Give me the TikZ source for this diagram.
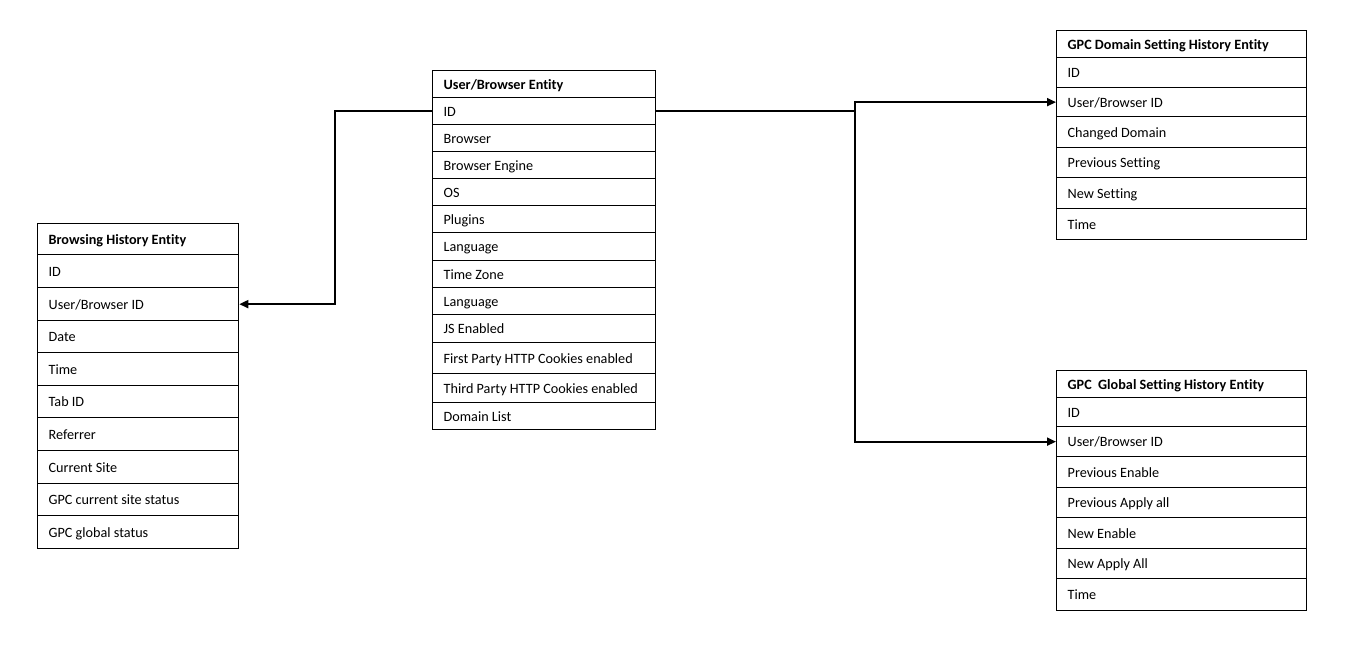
\documentclass[tikz,border=0pt]{standalone}
\usepackage{fontspec}
\setmainfont{Carlito}[Ligatures=NoCommon]
\usetikzlibrary{arrows.meta}
\tikzset{
  row/.style={draw, line width=1.3pt, rectangle, anchor=north west, inner xsep=11pt, inner ysep=0pt, align=flush left, text height=12pt, text depth=2pt, font=\fontsize{14.2}{16}\selectfont},
  conn/.style={line width=1.8pt},
  tip/.style={-{Triangle[length=9pt,width=8pt]}}
}
\newcommand{\erow}[6]{\node[row, text width=#5, minimum height=#4] (#1) at (#2,#3) {#6};}
\begin{document}
\begin{tikzpicture}[x=1pt,y=-1pt]
\useasboundingbox[fill=white] (0,0) rectangle (1371,661);
% User/Browser Entity  x=432, width 223 -> text width 201
\erow{ub0}{432}{70}{27pt}{201pt}{\bfseries User/Browser Entity}
\erow{ub1}{432}{97}{27pt}{201pt}{ID}
\erow{ub2}{432}{124}{27pt}{201pt}{Browser}
\erow{ub3}{432}{151}{27pt}{201pt}{Browser Engine}
\erow{ub4}{432}{178}{27pt}{201pt}{OS}
\erow{ub5}{432}{205}{27pt}{201pt}{Plugins}
\erow{ub6}{432}{232}{28pt}{201pt}{Language}
\erow{ub7}{432}{260}{27pt}{201pt}{Time Zone}
\erow{ub8}{432}{287}{27pt}{201pt}{Language}
\erow{ub9}{432}{314}{28pt}{201pt}{JS Enabled}
\erow{ub10}{432}{342}{31pt}{201pt}{First Party HTTP Cookies enabled}
\erow{ub11}{432}{373}{29pt}{201pt}{Third Party HTTP Cookies enabled}
\erow{ub12}{432}{402}{27pt}{201pt}{Domain List}
% Browsing History Entity x=37 width 201 -> 179
\erow{bh0}{37}{223}{31pt}{179pt}{\bfseries Browsing History Entity}
\erow{bh1}{37}{254}{33pt}{179pt}{ID}
\erow{bh2}{37}{287}{33pt}{179pt}{User/Browser ID}
\erow{bh3}{37}{320}{32pt}{179pt}{Date}
\erow{bh4}{37}{352}{33pt}{179pt}{Time}
\erow{bh5}{37}{385}{32pt}{179pt}{Tab ID}
\erow{bh6}{37}{417}{33pt}{179pt}{Referrer}
\erow{bh7}{37}{450}{33pt}{179pt}{Current Site}
\erow{bh8}{37}{483}{32pt}{179pt}{GPC current site status}
\erow{bh9}{37}{515}{33pt}{179pt}{GPC global status}
% GPC Domain Setting History Entity x=1056 width 250 -> 228
\erow{gd0}{1056}{30}{27pt}{228pt}{\bfseries GPC Domain Setting History Entity}
\erow{gd1}{1056}{57}{30pt}{228pt}{ID}
\erow{gd2}{1056}{87}{29pt}{228pt}{User/Browser ID}
\erow{gd3}{1056}{116}{31pt}{228pt}{Changed Domain}
\erow{gd4}{1056}{147}{30pt}{228pt}{Previous Setting}
\erow{gd5}{1056}{177}{31pt}{228pt}{New Setting}
\erow{gd6}{1056}{208}{31pt}{228pt}{Time}
% GPC Global Setting History Entity
\erow{gg0}{1056}{370}{27pt}{228pt}{\bfseries GPC~ Global Setting History Entity}
\erow{gg1}{1056}{397}{29pt}{228pt}{ID}
\erow{gg2}{1056}{426}{30pt}{228pt}{User/Browser ID}
\erow{gg3}{1056}{456}{31pt}{228pt}{Previous Enable}
\erow{gg4}{1056}{487}{30pt}{228pt}{Previous Apply all}
\erow{gg5}{1056}{517}{31pt}{228pt}{New Enable}
\erow{gg6}{1056}{548}{30pt}{228pt}{New Apply All}
\erow{gg7}{1056}{578}{32pt}{228pt}{Time}
% connectors
\coordinate (jl) at (335,0);
\coordinate (jr) at (855,0);
\draw[conn,tip] (ub1.west) -| (jl |- bh2.east) -- (bh2.east);
\draw[conn] (ub1.east) -- (jr |- ub1.east);
\draw[conn,tip] (jr |- ub1.east) |- (gd2.west);
\draw[conn,tip] (jr |- ub1.east) |- (gg2.west);
\end{tikzpicture}
\end{document}
